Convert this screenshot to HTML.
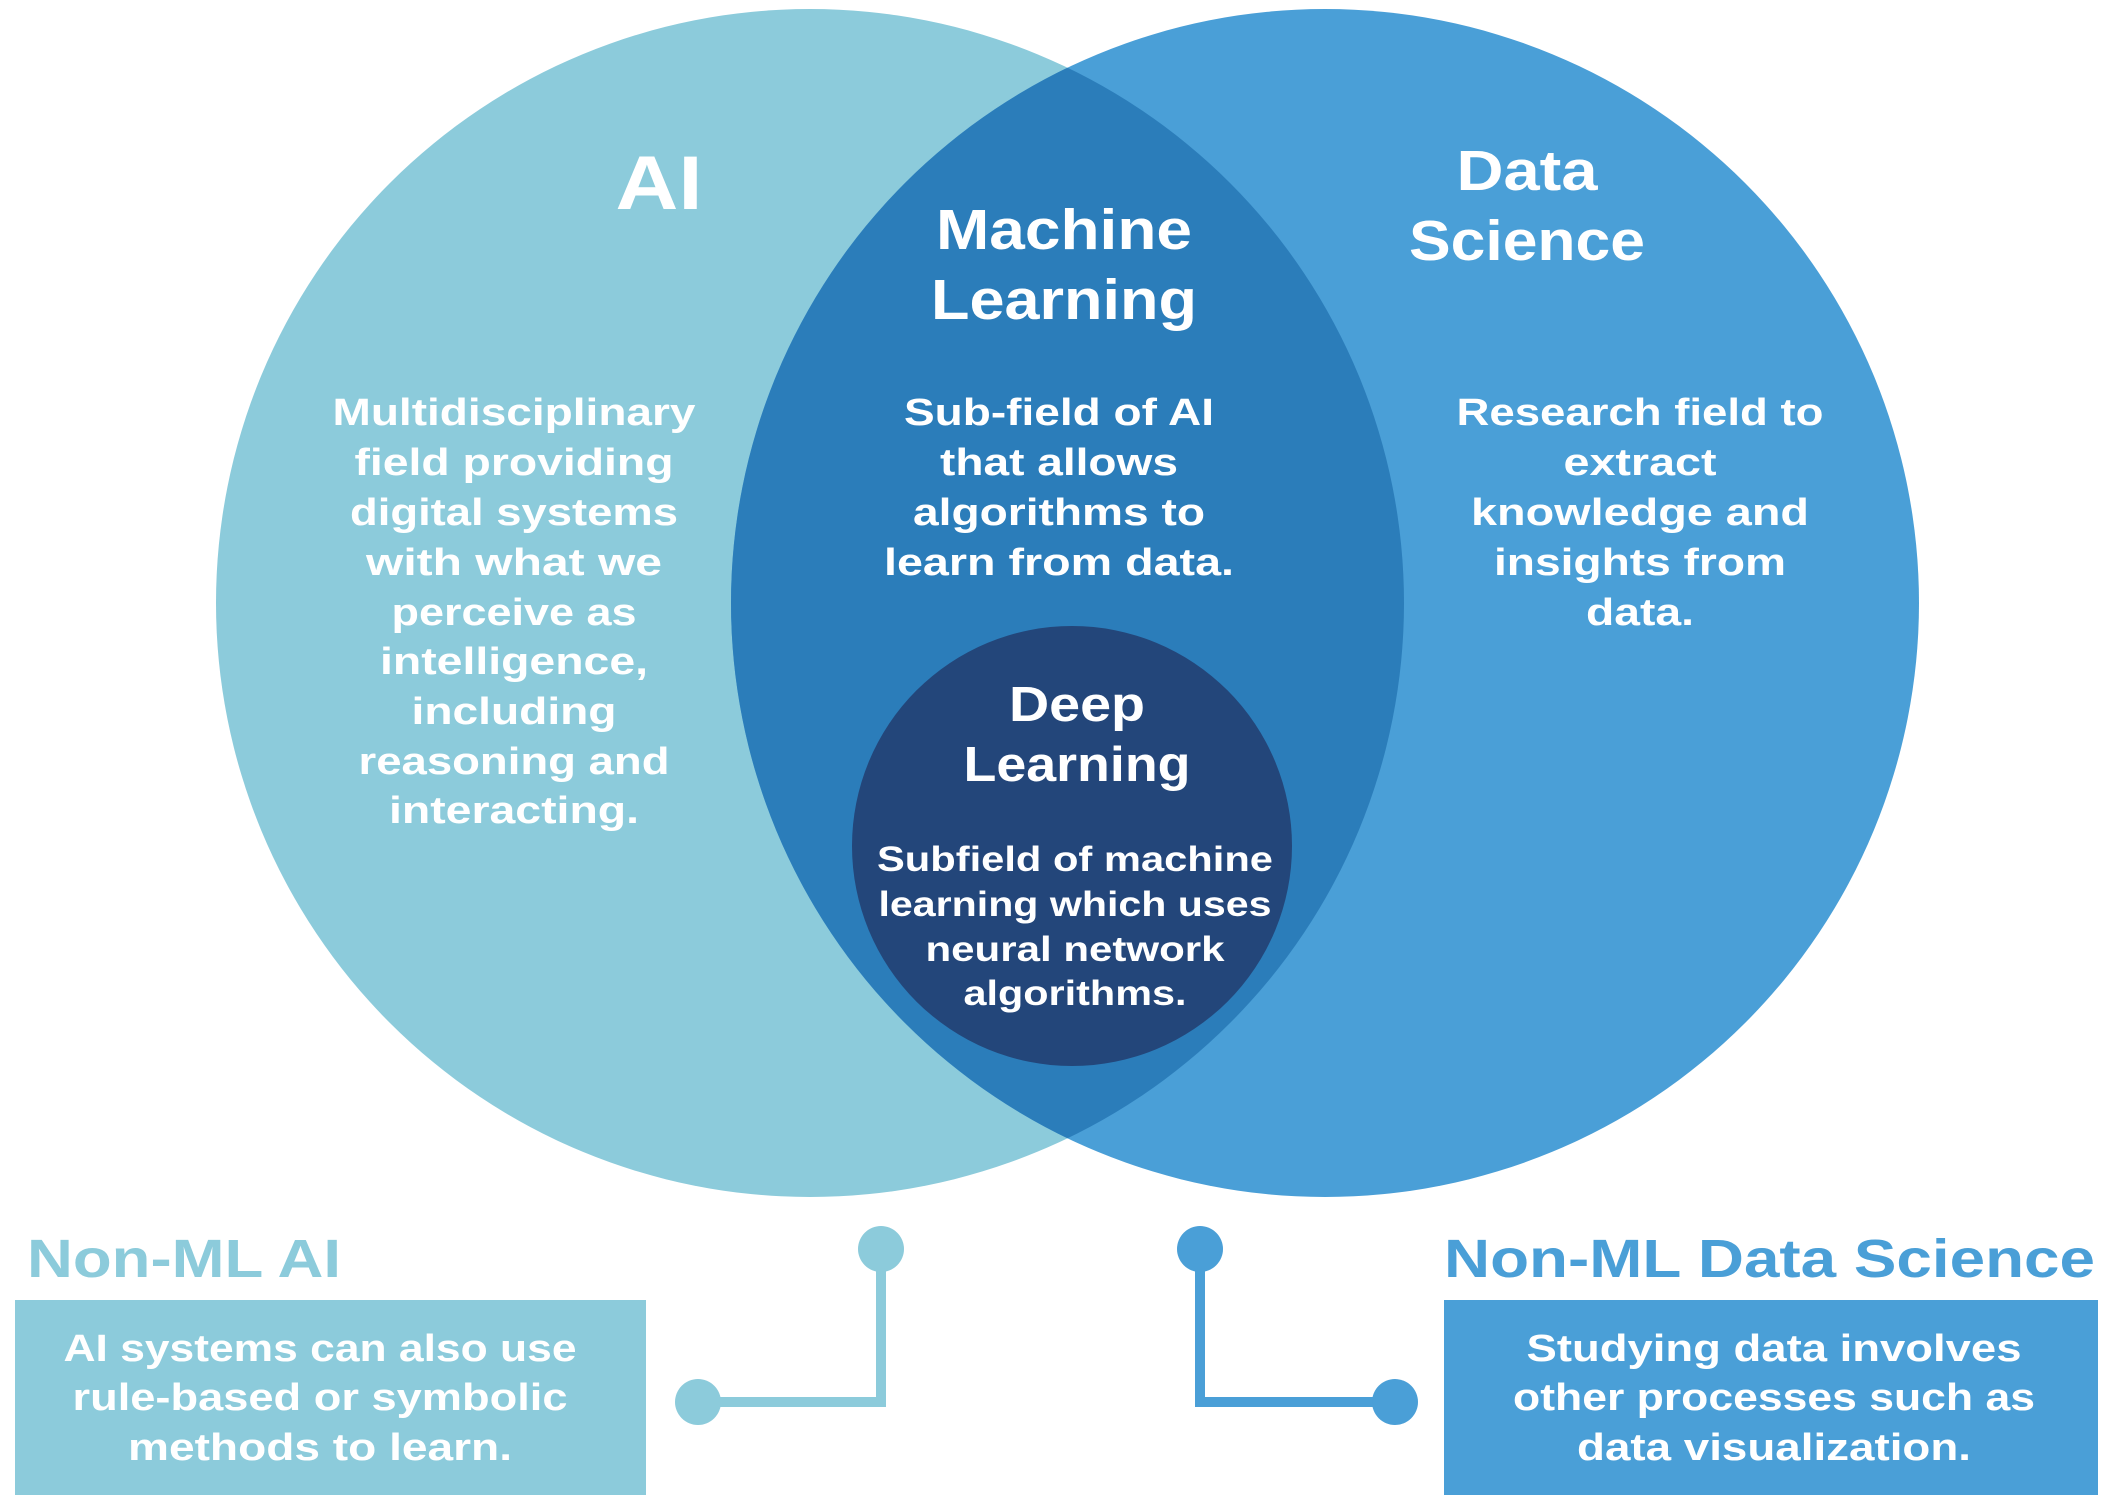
<!DOCTYPE html>
<html><head><meta charset="utf-8"><style>
html,body{margin:0;padding:0;background:#fff;}
svg{display:block;}
text{font-family:"Liberation Sans",sans-serif;font-weight:bold;fill:#fff;}
</style></head><body>
<svg width="2110" height="1506" viewBox="0 0 2110 1506">
<defs>
<clipPath id="cl"><circle cx="810" cy="603" r="594"/></clipPath>
</defs>
<circle cx="810" cy="603" r="594" fill="#8ccbdb"/>
<circle cx="1325" cy="603" r="594" fill="#4a9fd7"/>
<circle cx="1325" cy="603" r="594" fill="#2b7dba" clip-path="url(#cl)"/>
<circle cx="1072" cy="846" r="220" fill="#23467a"/>

<g lengthAdjust="spacingAndGlyphs">
<text x="659" y="209" font-size="76" text-anchor="middle" textLength="87" lengthAdjust="spacingAndGlyphs">AI</text>
<g font-size="57" text-anchor="middle">
<text x="1064" y="249" textLength="256" lengthAdjust="spacingAndGlyphs">Machine</text>
<text x="1064" y="319" textLength="266" lengthAdjust="spacingAndGlyphs">Learning</text>
<text x="1527" y="190" textLength="141" lengthAdjust="spacingAndGlyphs">Data</text>
<text x="1527" y="260" textLength="236" lengthAdjust="spacingAndGlyphs">Science</text>
</g>
<g font-size="38" text-anchor="middle">
<text x="514" y="425" textLength="363" lengthAdjust="spacingAndGlyphs">Multidisciplinary</text>
<text x="514" y="475" textLength="319" lengthAdjust="spacingAndGlyphs">field providing</text>
<text x="514" y="525" textLength="328" lengthAdjust="spacingAndGlyphs">digital systems</text>
<text x="514" y="575" textLength="296" lengthAdjust="spacingAndGlyphs">with what we</text>
<text x="514" y="625" textLength="245" lengthAdjust="spacingAndGlyphs">perceive as</text>
<text x="514" y="674" textLength="268" lengthAdjust="spacingAndGlyphs">intelligence,</text>
<text x="514" y="724" textLength="205" lengthAdjust="spacingAndGlyphs">including</text>
<text x="514" y="774" textLength="311" lengthAdjust="spacingAndGlyphs">reasoning and</text>
<text x="514" y="823" textLength="250" lengthAdjust="spacingAndGlyphs">interacting.</text>

<text x="1059" y="425" textLength="310" lengthAdjust="spacingAndGlyphs">Sub-field of AI</text>
<text x="1059" y="475" textLength="238" lengthAdjust="spacingAndGlyphs">that allows</text>
<text x="1059" y="525" textLength="292" lengthAdjust="spacingAndGlyphs">algorithms to</text>
<text x="1059" y="575" textLength="350" lengthAdjust="spacingAndGlyphs">learn from data.</text>

<text x="1640" y="425" textLength="367" lengthAdjust="spacingAndGlyphs">Research field to</text>
<text x="1640" y="475" textLength="153" lengthAdjust="spacingAndGlyphs">extract</text>
<text x="1640" y="525" textLength="338" lengthAdjust="spacingAndGlyphs">knowledge and</text>
<text x="1640" y="575" textLength="292" lengthAdjust="spacingAndGlyphs">insights from</text>
<text x="1640" y="625" textLength="108" lengthAdjust="spacingAndGlyphs">data.</text>
</g>
<g font-size="49" text-anchor="middle">
<text x="1077" y="721" textLength="136" lengthAdjust="spacingAndGlyphs">Deep</text>
<text x="1077" y="781" textLength="227" lengthAdjust="spacingAndGlyphs">Learning</text>
</g>
<g font-size="35" text-anchor="middle">
<text x="1075" y="871" textLength="396" lengthAdjust="spacingAndGlyphs">Subfield of machine</text>
<text x="1075" y="916" textLength="393" lengthAdjust="spacingAndGlyphs">learning which uses</text>
<text x="1075" y="961" textLength="299" lengthAdjust="spacingAndGlyphs">neural network</text>
<text x="1075" y="1005" textLength="223" lengthAdjust="spacingAndGlyphs">algorithms.</text>
</g>

<text x="27" y="1277" font-size="54" textLength="314" lengthAdjust="spacingAndGlyphs" style="fill:#8ccbdb">Non-ML AI</text>
<text x="1444" y="1277" font-size="54" textLength="651" lengthAdjust="spacingAndGlyphs" style="fill:#4a9fd7">Non-ML Data Science</text>

<rect x="15" y="1300" width="631" height="195" fill="#8ccbdb"/>
<rect x="1444" y="1300" width="654" height="195" fill="#4a9fd7"/>
<g font-size="38" text-anchor="middle">
<text x="320" y="1361" textLength="513" lengthAdjust="spacingAndGlyphs">AI systems can also use</text>
<text x="320" y="1410" textLength="495" lengthAdjust="spacingAndGlyphs">rule-based or symbolic</text>
<text x="320" y="1460" textLength="384" lengthAdjust="spacingAndGlyphs">methods to learn.</text>
<text x="1774" y="1361" textLength="495" lengthAdjust="spacingAndGlyphs">Studying data involves</text>
<text x="1774" y="1410" textLength="522" lengthAdjust="spacingAndGlyphs">other processes such as</text>
<text x="1774" y="1460" textLength="394" lengthAdjust="spacingAndGlyphs">data visualization.</text>
</g>
</g>

<polyline points="881,1249 881,1402 698,1402" fill="none" stroke="#8ccbdb" stroke-width="10"/>
<circle cx="881" cy="1249" r="23" fill="#8ccbdb"/>
<circle cx="698" cy="1402" r="23" fill="#8ccbdb"/>
<polyline points="1200,1249 1200,1402 1395,1402" fill="none" stroke="#4a9fd7" stroke-width="10"/>
<circle cx="1200" cy="1249" r="23" fill="#4a9fd7"/>
<circle cx="1395" cy="1402" r="23" fill="#4a9fd7"/>
</svg>
</body></html>
